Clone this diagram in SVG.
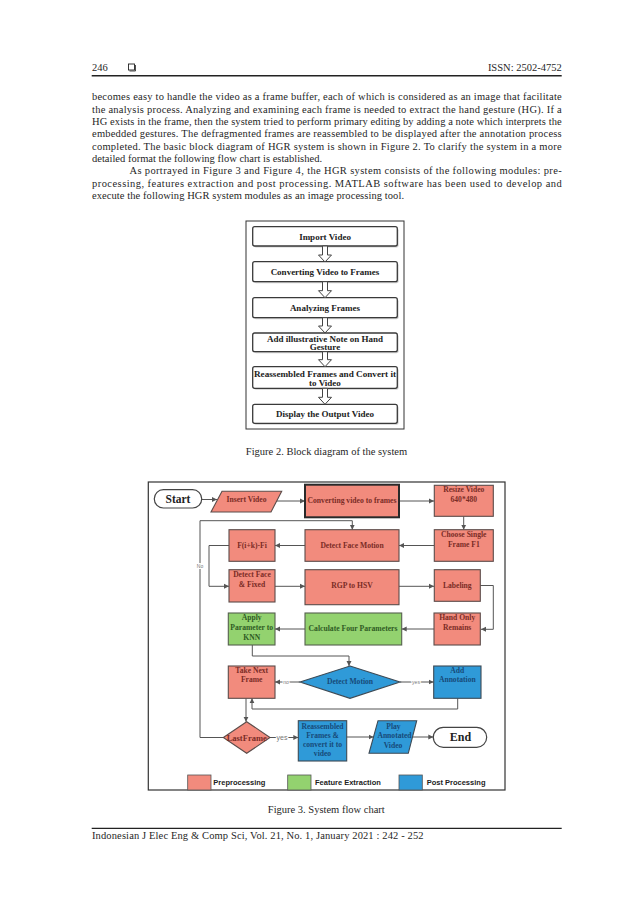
<svg xmlns="http://www.w3.org/2000/svg" width="638" height="902" viewBox="0 0 638 902">
<style>
.body{font-family:"Liberation Serif","Times New Roman",serif;font-size:10.5px;fill:#1f1f1f}
.f2box{fill:#fff;stroke:#3a3a3a;stroke-width:1.3}
.f2sh{fill:#cfcfcf}
.f2t{font-family:"Liberation Serif","Times New Roman",serif;font-weight:bold;font-size:9px;fill:#222;text-anchor:middle}
.harrow{fill:#fff;stroke:#444;stroke-width:1}
.pre{fill:#F28B7D;stroke:#5b4c4a;stroke-width:1.1}
.fe{fill:#93D26F;stroke:#55604e;stroke-width:1.1}
.pp{fill:#2F9AD8;stroke:#3d4a55;stroke-width:1.1}
.term{fill:#fff;stroke:#444;stroke-width:1.2}
.t{font-family:"Liberation Serif","Times New Roman",serif;font-weight:bold;font-size:7.6px;text-anchor:middle}
.tp{fill:#7a2c26}
.tf{fill:#2f5b24}
.tb{fill:#174a78}
.tk{fill:#222}
.con{fill:none;stroke:#555;stroke-width:1}
.lbl{font-family:"Liberation Sans",Arial,sans-serif;font-size:5px;fill:#777;text-anchor:middle;stroke:#fff;stroke-width:2;paint-order:stroke}
.leg{font-family:"Liberation Sans",Arial,sans-serif;font-weight:bold;font-size:7.5px;fill:#222}
</style>
<defs>
<marker id="ah" markerWidth="6" markerHeight="6" refX="5" refY="3" orient="auto" markerUnits="userSpaceOnUse"><path d="M0,0.5 L5,3 L0,5.5 z" fill="#555"/></marker>
</defs>
<rect width="638" height="902" fill="#fff"/>

<!-- header -->
<g id="header">
<text class="body" x="92" y="71">246</text>
<rect x="128.5" y="64" width="6" height="6" fill="none" stroke="#222" stroke-width="0.9"/>
<path d="M129.5,71 L135.5,71 L135.5,65" fill="none" stroke="#222" stroke-width="0.8"/>
<text class="body" x="561.7" y="71" text-anchor="end">ISSN: 2502-4752</text>
<line x1="91.7" y1="75.7" x2="561.7" y2="75.7" stroke="#222" stroke-width="1.5"/>
</g>

<!-- body text -->
<g id="bodytext">
<text class="body" x="92" y="100.2" textLength="469.7" lengthAdjust="spacing">becomes easy to handle the video as a frame buffer, each of which is considered as an image that facilitate</text>
<text class="body" x="92" y="112.6" textLength="469.7" lengthAdjust="spacing">the analysis process. Analyzing and examining each frame is needed to extract the hand gesture (HG). If a</text>
<text class="body" x="92" y="124.9" textLength="469.7" lengthAdjust="spacing">HG exists in the frame, then the system tried to perform primary editing by adding a note which interprets the</text>
<text class="body" x="92" y="137.3" textLength="469.7" lengthAdjust="spacing">embedded gestures. The defragmented frames are reassembled to be displayed after the annotation process</text>
<text class="body" x="92" y="149.6" textLength="469.7" lengthAdjust="spacing">completed. The basic block diagram of HGR system is shown in Figure 2. To clarify the system in a more</text>
<text class="body" x="92" y="162" textLength="230" lengthAdjust="spacing">detailed format the following flow chart is established.</text>
<text class="body" x="129.5" y="174.3" textLength="432.2" lengthAdjust="spacing">As portrayed in Figure 3 and Figure 4, the HGR system consists of the following modules: pre-</text>
<text class="body" x="92" y="186.7" textLength="469.7" lengthAdjust="spacing">processing, features extraction and post processing. MATLAB software has been used to develop and</text>
<text class="body" x="92" y="199" textLength="312" lengthAdjust="spacing">execute the following HGR system modules as an image processing tool.</text>
</g>

<!-- Figure 2 -->
<rect x="246" y="221" width="158" height="208" fill="#fff" stroke="#333" stroke-width="1"/>
<g id="f2-import">
<rect class="f2sh" x="254" y="228.2" width="144.6" height="19.3" rx="2"/>
<rect class="f2box" x="252.7" y="226.7" width="144.6" height="19.3" rx="2"/>
<text class="f2t" x="325" y="239.5">Import Video</text>
</g>
<g id="f2-convert">
<rect class="f2sh" x="254" y="263.2" width="144.6" height="20" rx="2"/>
<rect class="f2box" x="252.7" y="261.7" width="144.6" height="20" rx="2"/>
<text class="f2t" x="325" y="274.8">Converting Video to Frames</text>
</g>
<g id="f2-analyze">
<rect class="f2sh" x="254" y="299.2" width="144.6" height="20" rx="2"/>
<rect class="f2box" x="252.7" y="297.7" width="144.6" height="20" rx="2"/>
<text class="f2t" x="325" y="310.8">Analyzing Frames</text>
</g>
<g id="f2-note">
<rect class="f2sh" x="254" y="334.5" width="144.6" height="18.7" rx="2"/>
<rect class="f2box" x="252.7" y="333" width="144.6" height="18.7" rx="2"/>
<text class="f2t" x="325" y="341.6">Add illustrative Note on Hand</text>
<text class="f2t" x="325" y="350">Gesture</text>
</g>
<g id="f2-reassemble">
<rect class="f2sh" x="254" y="368.2" width="144.6" height="21.6" rx="2"/>
<rect class="f2box" x="252.7" y="366.7" width="144.6" height="21.6" rx="2"/>
<text class="f2t" x="325" y="376.5" textLength="142" lengthAdjust="spacingAndGlyphs">Reassembled Frames and Convert it</text>
<text class="f2t" x="325" y="385.5">to Video</text>
</g>
<g id="f2-display">
<rect class="f2sh" x="254" y="405.8" width="144.6" height="19" rx="2"/>
<rect class="f2box" x="252.7" y="404.3" width="144.6" height="19" rx="2"/>
<text class="f2t" x="325" y="417">Display the Output Video</text>
</g>
<g id="f2-connectors">
<polygon class="harrow" points="322.5,246 327.5,246 327.5,255 331.5,255 325,262 318.5,255 322.5,255"/>
<polygon class="harrow" points="322.5,281.7 327.5,281.7 327.5,290.7 331.5,290.7 325,297.7 318.5,290.7 322.5,290.7"/>
<polygon class="harrow" points="322.5,317.7 327.5,317.7 327.5,326 331.5,326 325,333 318.5,326 322.5,326"/>
<polygon class="harrow" points="322.5,351.7 327.5,351.7 327.5,359.7 331.5,359.7 325,366.7 318.5,359.7 322.5,359.7"/>
<polygon class="harrow" points="322.5,388.3 327.5,388.3 327.5,397.3 331.5,397.3 325,404.3 318.5,397.3 322.5,397.3"/>
</g>
<text class="body" x="326.5" y="454.5" text-anchor="middle">Figure 2. Block diagram of the system</text>

<!-- Figure 3 -->
<rect x="148.3" y="482" width="356.7" height="308" fill="#fff" stroke="#333" stroke-width="1.2"/>

<g id="connectors">
<path class="con" d="M202,499.5 L217,499.5" marker-end="url(#ah)"/>
<path class="con" d="M277,501 L305,501" marker-end="url(#ah)"/>
<path class="con" d="M399,501 L434,501" marker-end="url(#ah)"/>
<path class="con" d="M463.7,516.3 L463.7,529.7" marker-end="url(#ah)"/>
<path class="con" d="M434,545.5 L399,545.5" marker-end="url(#ah)"/>
<path class="con" d="M305,545.5 L275,545.5" marker-end="url(#ah)"/>
<path class="con" d="M229,545.5 L209,545.5 L209,586.3 L229,586.3" marker-end="url(#ah)"/>
<path class="con" d="M275,586.3 L305,586.3" marker-end="url(#ah)"/>
<path class="con" d="M399,586.3 L434,586.3" marker-end="url(#ah)"/>
<path class="con" d="M480,585.5 L493.3,585.5 L493.3,629.3 L481,629.3" marker-end="url(#ah)"/>
<path class="con" d="M434,629 L401.7,629" marker-end="url(#ah)"/>
<path class="con" d="M305,629 L275,629" marker-end="url(#ah)"/>
<path class="con" d="M252.3,645 L252.3,656 L349,656 L349,666" marker-end="url(#ah)"/>
<path class="con" d="M300,682 L275,682" marker-end="url(#ah)"/>
<path class="con" d="M400,682 L433.7,682" marker-end="url(#ah)"/>
<path class="con" d="M457.7,698.3 L457.7,709 L252,709 L252,698.3" marker-end="url(#ah)"/>
<path class="con" d="M246,698.3 L246,721.7" marker-end="url(#ah)"/>
<path class="con" d="M270,737.5 L298.3,737.5" marker-end="url(#ah)"/>
<path class="con" d="M223.3,737.5 L200,737.5 L200,520.7 L352.3,520.7 L352.3,529.7" marker-end="url(#ah)"/>
<path class="con" d="M346.7,737 L373.5,737" marker-end="url(#ah)"/>
<path class="con" d="M412.5,737 L433.3,737" marker-end="url(#ah)"/>
<text class="lbl" x="286" y="683.7">no</text>
<text class="lbl" x="416" y="683.7">yes</text>
<text class="lbl" x="282" y="739.5" style="font-size:7px">yes</text>
<text class="lbl" x="200" y="567.5">No</text>
</g>

<g id="start">
<rect class="term" x="154.3" y="489.7" width="47.4" height="18.3" rx="9.1"/>
<text class="t tk" x="178" y="503" style="font-size:11.5px">Start</text>
</g>
<g id="insert-video">
<polygon class="pre" points="222,491.3 281.7,491.3 271,512 211,512"/>
<text class="t tp" x="246.5" y="502.2">Insert Video</text>
</g>
<g id="converting">
<rect x="305" y="484.7" width="94" height="32.6" fill="#F28B7D" stroke="#2a2a2a" stroke-width="2"/>
<text class="t tp" x="352" y="503.3" textLength="89" lengthAdjust="spacingAndGlyphs">Converting video to frames</text>
</g>
<g id="resize">
<rect class="pre" x="434.3" y="485.3" width="59" height="31"/>
<text class="t tp" x="463.8" y="492.3">Resize Video</text>
<text class="t tp" x="463.8" y="501.6">640*480</text>
</g>
<g id="choose">
<rect class="pre" x="434.3" y="529.7" width="59" height="31.6"/>
<text class="t tp" x="463.8" y="537.3">Choose Single</text>
<text class="t tp" x="463.8" y="546.6">Frame F1</text>
</g>
<g id="detect-face-motion">
<rect class="pre" x="305" y="529.7" width="94" height="31.6"/>
<text class="t tp" x="352" y="547.5">Detect Face Motion</text>
</g>
<g id="fik">
<rect class="pre" x="229" y="529.7" width="46" height="31.6"/>
<text class="t tp" x="252" y="547.5">F(i+k)-Fi</text>
</g>
<g id="detect-face-fixed">
<rect class="pre" x="229" y="569.7" width="46" height="32.3"/>
<text class="t tp" x="252" y="577.3">Detect Face</text>
<text class="t tp" x="252" y="587.3">&amp; Fixed</text>
</g>
<g id="rgp-hsv">
<rect class="pre" x="305" y="569.7" width="94" height="35"/>
<text class="t tp" x="352" y="588.3">RGP to HSV</text>
</g>
<g id="labeling">
<rect class="pre" x="434.3" y="569.7" width="46" height="31.6"/>
<text class="t tp" x="457.3" y="588">Labeling</text>
</g>
<g id="hand-only">
<rect class="pre" x="434" y="613" width="46.3" height="32"/>
<text class="t tp" x="457.2" y="620">Hand Only</text>
<text class="t tp" x="457.2" y="630">Remains</text>
</g>
<g id="calc-four">
<rect class="fe" x="305" y="613" width="96.7" height="32"/>
<text class="t tf" x="353" y="631.2" textLength="89" lengthAdjust="spacingAndGlyphs">Calculate Four Parameters</text>
</g>
<g id="apply-knn">
<rect class="fe" x="228.3" y="613" width="46.7" height="32"/>
<text class="t tf" x="251.7" y="620.3">Apply</text>
<text class="t tf" x="251.7" y="630">Parameter to</text>
<text class="t tf" x="251.7" y="639.5">KNN</text>
</g>
<g id="take-next">
<rect class="pre" x="228.3" y="666" width="46.7" height="32.3"/>
<text class="t tp" x="251.7" y="672.7">Take Next</text>
<text class="t tp" x="251.7" y="682">Frame</text>
</g>
<g id="detect-motion">
<polygon class="pp" points="350,666 400,682 350,698.3 300,682"/>
<text class="t tb" x="350" y="683.5">Detect Motion</text>
</g>
<g id="add-annotation">
<rect class="pp" x="433.7" y="666" width="47.3" height="32.3"/>
<text class="t tb" x="457.3" y="672.7">Add</text>
<text class="t tb" x="457.3" y="682">Annotation</text>
</g>
<g id="last-frame">
<polygon class="pre" points="246.7,721.7 270,737.5 246.7,753.3 223.3,737.5"/>
<text class="t tp" x="246.7" y="740.5" style="font-size:8.5px">LastFrame</text>
</g>
<g id="reassembled">
<rect class="pp" x="298.3" y="720.7" width="48.4" height="40.3"/>
<text class="t tb" x="322.5" y="728.7">Reassembled</text>
<text class="t tb" x="322.5" y="737.7">Frames &amp;</text>
<text class="t tb" x="322.5" y="746.7">convert it to</text>
<text class="t tb" x="322.5" y="756">video</text>
</g>
<g id="play">
<polygon class="pp" points="378,720.7 416.7,720.7 408.3,753.3 369,753.3"/>
<text class="t tb" x="393.5" y="728.7">Play</text>
<text class="t tb" x="394.5" y="737.7">Annotated</text>
<text class="t tb" x="393" y="747.7">Video</text>
</g>
<g id="end">
<rect class="term" x="433.3" y="727.3" width="53.4" height="20" rx="10"/>
<text class="t tk" x="460.5" y="741.2" style="font-size:12px">End</text>
</g>
<g id="legend">
<rect x="187.7" y="775" width="23.3" height="15" fill="#F28B7D" stroke="#555" stroke-width="0.8"/>
<text class="leg" x="213.3" y="784.5">Preprocessing</text>
<rect x="287.7" y="775" width="23.3" height="15" fill="#93D26F" stroke="#555" stroke-width="0.8"/>
<text class="leg" x="315" y="784.5">Feature Extraction</text>
<rect x="399" y="775" width="23.3" height="15" fill="#2F9AD8" stroke="#555" stroke-width="0.8"/>
<text class="leg" x="426.7" y="785">Post Processing</text>
</g>
<text class="body" x="326.3" y="812.8" text-anchor="middle">Figure 3. System flow chart</text>

<!-- footer -->
<g id="footer">
<line x1="91.7" y1="828.3" x2="561.7" y2="828.3" stroke="#222" stroke-width="1.2"/>
<text class="body" x="92" y="839.3" textLength="331.5" lengthAdjust="spacing">Indonesian J Elec Eng &amp; Comp Sci, Vol. 21, No. 1, January 2021 :  242 - 252</text>
</g>
</svg>
